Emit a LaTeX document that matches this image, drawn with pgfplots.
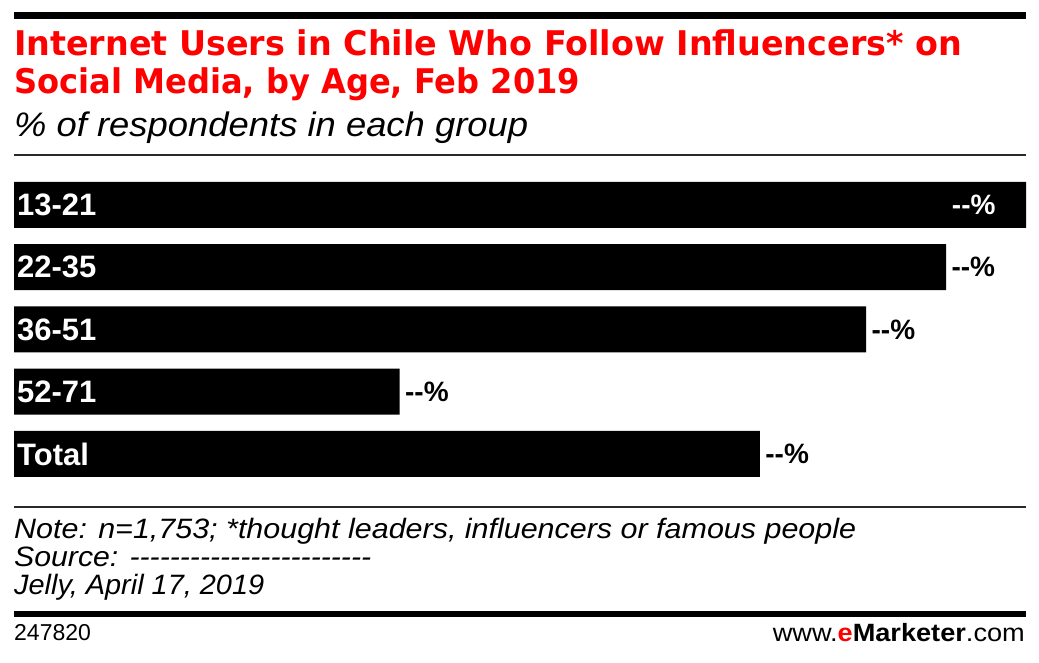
\documentclass[border=0pt]{standalone}
\usepackage{pgfplots}
\pgfplotsset{compat=1.18}
\usepackage{fontspec}
\setmainfont{Liberation Sans}
\newfontfamily\titlefont{DejaVu Sans}
\definecolor{emred}{RGB}{255,0,0}
\definecolor{rule}{RGB}{40,40,40}

\begin{document}
\begin{tikzpicture}
\useasboundingbox (0,0) rectangle (1039pt,-663pt);

% rules
\fill[black] (14pt,-12pt) rectangle (1026pt,-19pt);
\draw[rule, line width=1.6pt] (14pt,-155pt) -- (1026pt,-155pt);
\draw[rule, line width=1.6pt] (14pt,-507pt) -- (1026pt,-507pt);
\fill[black] (14pt,-611pt) rectangle (1026pt,-617pt);

% titles
\node[anchor=base west, inner sep=0, text=emred] at (14pt,-56pt)
  {\resizebox{948pt}{\height}{\titlefont\bfseries\fontsize{34}{34}\selectfont Internet Users in Chile Who Follow Influencers* on}};
\node[anchor=base west, inner sep=0, text=emred] at (14pt,-94pt)
  {\resizebox{566pt}{\height}{\titlefont\bfseries\fontsize{34}{34}\selectfont Social Media, by Age, Feb 2019}};
\node[anchor=base west, inner sep=0] at (14pt,-137pt)
  {\resizebox{514pt}{\height}{\itshape\fontsize{34}{34}\selectfont \% of respondents in each group}};

% notes
\node[anchor=base west, inner sep=0] at (14pt,-538pt)
  {\resizebox{842pt}{\height}{\itshape\fontsize{28}{28}\selectfont Note: n=1,753; *thought leaders, influencers or famous people}};
\node[anchor=base west, inner sep=0] at (14pt,-566pt)
  {\resizebox{357pt}{\height}{\itshape\fontsize{28}{28}\selectfont Source: -{}-{}-{}-{}-{}-{}-{}-{}-{}-{}-{}-{}-{}-{}-{}-{}-{}-{}-{}-{}-{}-{}-{}-}};
\node[anchor=base west, inner sep=0] at (14pt,-594pt)
  {\resizebox{250pt}{\height}{\itshape\fontsize{28}{28}\selectfont Jelly, April 17, 2019}};
\node[anchor=base west, inner sep=0] at (14pt,-640pt)
  {\fontsize{23}{23}\selectfont 247820};
\node[anchor=base east, inner sep=0] at (1025pt,-641pt)
  {\resizebox{252pt}{\height}{\fontsize{25}{25}\selectfont www.\textbf{\textcolor{emred}{e}Marketer}.com}};

\begin{axis}[
    at={(14pt,-485.1pt)}, anchor=south west,
    scale only axis,
    width=1012pt, height=311.25pt,
    hide axis,
    xmin=0, xmax=100,
    ymin=-0.5, ymax=4.5,
    y dir=reverse,
    xbar, bar width=46pt, bar shift=0pt,
]
% bars (values are relative lengths; the source shows "--%")
\addplot[fill=black, draw=none] coordinates {
    (100,0) (92.1,1) (84.2,2) (38.1,3) (73.7,4)
};
% outside labels
\addplot[draw=none, fill=none,
    nodes near coords={\bfseries\fontsize{28}{28}\selectfont -{}-\%},
    every node near coord/.append style={anchor=west, xshift=2pt, black}]
    coordinates {(92.1,1) (84.2,2) (38.1,3) (73.7,4)};
% inside label of the longest bar
\addplot[draw=none, fill=none,
    nodes near coords={\bfseries\fontsize{28}{28}\selectfont -{}-\%},
    every node near coord/.append style={anchor=east, xshift=-27pt, white}]
    coordinates {(100,0)};
% category names
\foreach \lab [count=\i from 0] in {13-21,22-35,36-51,52-71,Total}{
  \edef\temp{\noexpand\node[anchor=west, text=white, inner sep=0, xshift=3pt]
    at (axis cs:0,\i) {\noexpand\bfseries\noexpand\fontsize{31}{31}\noexpand\selectfont \lab};}
  \temp
}
\end{axis}
\end{tikzpicture}
\end{document}
